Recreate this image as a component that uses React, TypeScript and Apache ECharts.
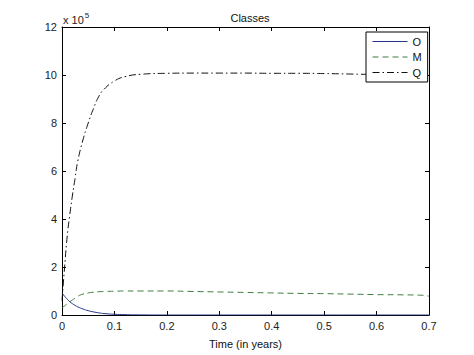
import React, { useEffect, useRef } from "react";
import * as echarts from "echarts";

const times = [0, 0.005, 0.01, 0.015, 0.02, 0.025, 0.03, 0.04, 0.05, 0.06, 0.07, 0.08, 0.1, 0.12, 0.15, 0.2, 0.25, 0.3, 0.35, 0.4, 0.45, 0.5, 0.55, 0.6, 0.65, 0.69, 0.7];
// values in units of 10^5
const valuesO = [0.92, 0.78, 0.66, 0.55, 0.47, 0.4, 0.34, 0.25, 0.18, 0.13, 0.09, 0.06, 0.03, 0.015, 0.005, 0, 0, 0, 0, 0, 0, 0, 0, 0, 0, 0, 0];
const valuesM = [0.3, 0.38, 0.47, 0.55, 0.63, 0.7, 0.78, 0.87, 0.92, 0.95, 0.97, 0.98, 0.99, 1.0, 1.0, 1.0, 0.98, 0.96, 0.94, 0.92, 0.9, 0.89, 0.87, 0.85, 0.84, 0.82, 0.78];
const valuesQ = [0.6, 2.0, 3.3, 4.2, 5.0, 5.7, 6.4, 7.3, 8.0, 8.6, 9.1, 9.4, 9.75, 9.93, 10.03, 10.07, 10.08, 10.08, 10.08, 10.07, 10.07, 10.06, 10.04, 10.02, 10.01, 10.0, 10.0];
const seriesNames = ["O", "M", "Q"];
const xTicks = [0, 0.1, 0.2, 0.3, 0.4, 0.5, 0.6, 0.7];
const yTicks = [0, 2, 4, 6, 8, 10, 12];

const FONT = "Liberation Sans";

export default function App() {
  const ref = useRef<HTMLDivElement>(null);
  useEffect(() => {
    if (!ref.current) return;
    const chart = echarts.init(ref.current, undefined, { renderer: "svg" });
    const pair = (vals: number[]) => times.map((t, i) => [t, vals[i]]);
    const axisCommon = {
      axisLine: { show: true, onZero: false, lineStyle: { color: "#000", width: 1 } },
      axisTick: { show: true, inside: true, length: 4, lineStyle: { color: "#000" } },
      splitLine: { show: false },
    };
    const xCommon = {
      type: "value" as const,
      min: xTicks[0],
      max: xTicks[xTicks.length - 1],
      interval: 0.1,
      ...axisCommon,
    };
    const yCommon = {
      type: "value" as const,
      min: yTicks[0],
      max: yTicks[yTicks.length - 1],
      interval: 2,
      ...axisCommon,
    };
    chart.setOption({
      animation: false,
      backgroundColor: "#fff",
      title: {
        text: "Classes",
        left: 245,
        top: 7,
        textAlign: "center",
        textStyle: { fontFamily: FONT, fontSize: 11, fontWeight: "normal", color: "#111" },
      },
      grid: { left: 62, right: 45, top: 27, bottom: 40, containLabel: false },
      legend: {
        orient: "vertical",
        left: 366,
        top: 32,
        padding: [4, 6, 4, 6],
        itemGap: 4.5,
        itemWidth: 35,
        itemHeight: 12,
        backgroundColor: "#fff",
        borderColor: "#000",
        borderWidth: 1,
        borderRadius: 0,
        itemStyle: { color: "transparent", borderWidth: 0, opacity: 0 },
        lineStyle: { width: 1 },
        textStyle: { fontFamily: FONT, fontSize: 11, color: "#111" },
        data: seriesNames,
      },
      xAxis: [
        {
          ...xCommon,
          position: "bottom",
          name: "Time (in years)",
          nameLocation: "middle",
          nameGap: 23,
          nameTextStyle: { fontFamily: FONT, fontSize: 11, color: "#111" },
          axisLabel: { fontFamily: FONT, fontSize: 11, color: "#222", margin: 5, formatter: (v: number) => String(Math.round(v * 10) / 10) },
        },
        { ...xCommon, position: "top", axisLabel: { show: false } },
      ],
      yAxis: [
        {
          ...yCommon,
          position: "left",
          axisLabel: { fontFamily: FONT, fontSize: 11, color: "#222", margin: 5 },
        },
        { ...yCommon, position: "right", axisLabel: { show: false } },
      ],
      graphic: [
        {
          type: "text",
          left: 63,
          top: 11,
          style: {
            text: "{a|x 10}{b|5}",
            rich: {
              a: { fontFamily: FONT, fontSize: 11, fill: "#222", verticalAlign: "bottom", lineHeight: 13 },
              b: { fontFamily: FONT, fontSize: 8, fill: "#222", verticalAlign: "top", padding: [0, 0, 6, 1] },
            },
          },
        },
      ],
      series: [
        {
          name: seriesNames[0],
          type: "line",
          data: pair(valuesO),
          showSymbol: false,
          symbol: "none",
          smooth: true,
          lineStyle: { color: "#26358a", width: 1, type: "solid" },
          itemStyle: { color: "#26358a" },
        },
        {
          name: seriesNames[1],
          type: "line",
          data: pair(valuesM),
          showSymbol: false,
          symbol: "none",
          smooth: true,
          lineStyle: { color: "#3d7d3d", width: 1, type: [6, 4] },
          itemStyle: { color: "#3d7d3d" },
        },
        {
          name: seriesNames[2],
          type: "line",
          data: pair(valuesQ),
          showSymbol: false,
          symbol: "none",
          smooth: true,
          lineStyle: { color: "#111", width: 1, type: [7, 3, 1.5, 3] },
          itemStyle: { color: "#111" },
        },
      ],
    });
    return () => chart.dispose();
  }, []);
  return (
    <div
      ref={ref}
      style={{ position: "fixed", left: 0, top: 0, width: 474, height: 355 }}
    />
  );
}
